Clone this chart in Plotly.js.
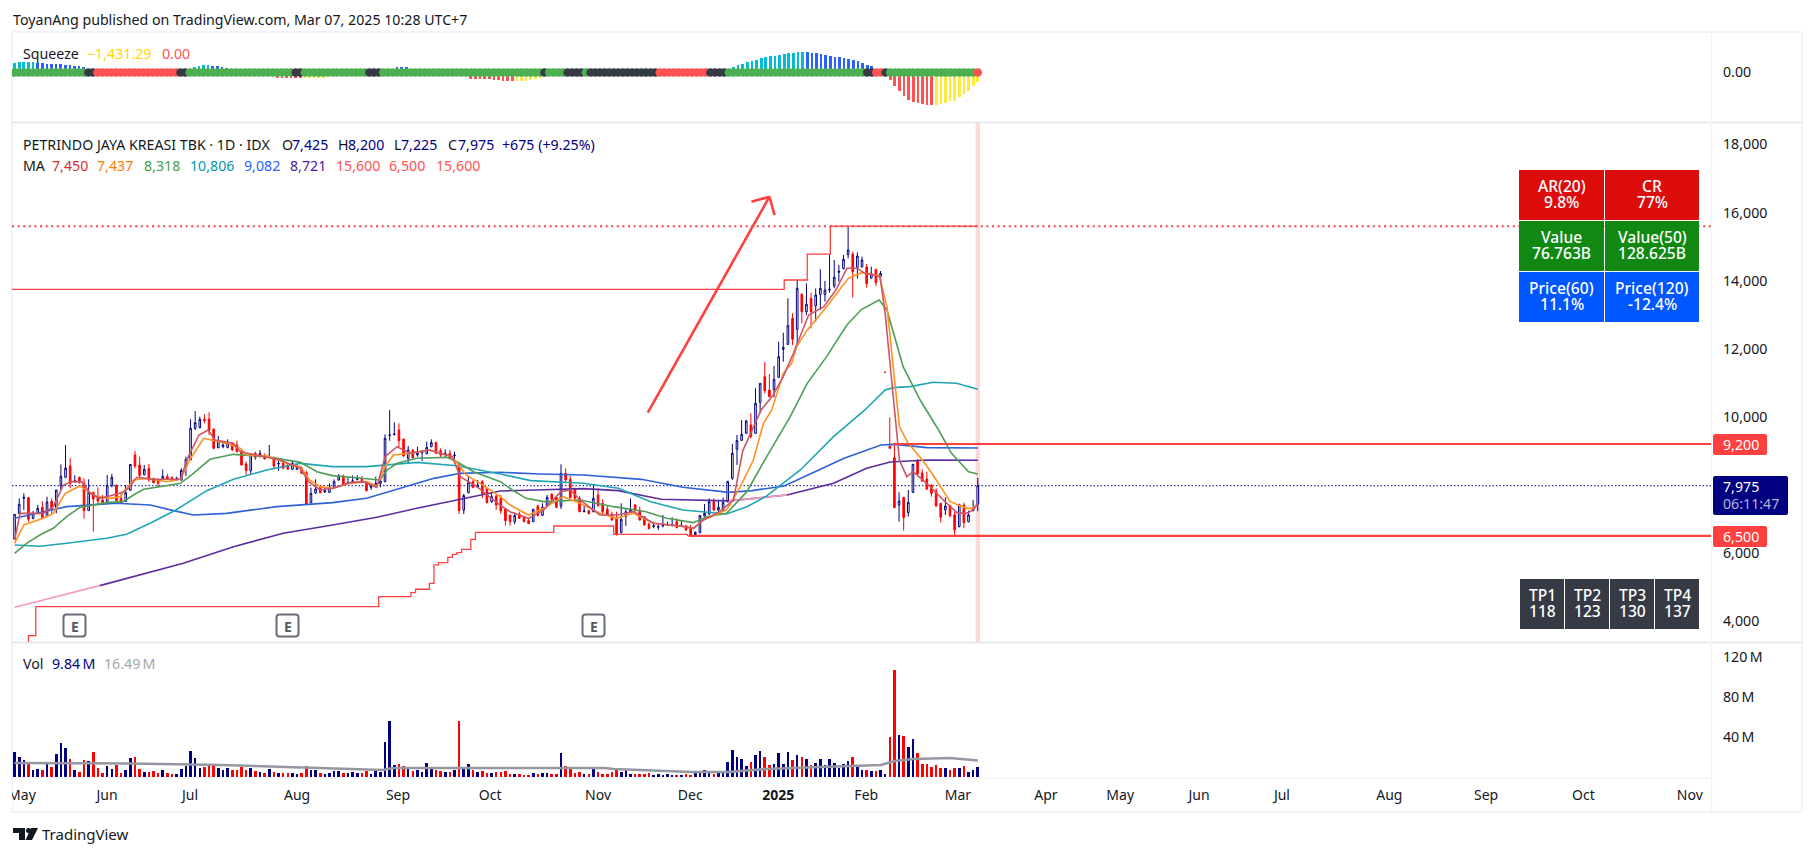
<!DOCTYPE html>
<html>
<head>
<meta charset="utf-8">
<script src="https://cdn.plot.ly/plotly-3.0.1.min.js"></script>
<style>html,body{margin:0;padding:0;background:#fff;overflow:hidden}#chart{width:1815px;height:856px}</style>
</head>
<body>
<div id="chart"></div>
<div style="position:absolute;left:0;top:782px;width:12px;height:28px;background:#fff"></div>
<script>
// ---------- candles ----------
const open = [6400,7163,7604,7624,7016,7183,7340,7065,7516,7340,
7966,8221,8554,8084,8221,8044,7242,7780,7624,7555,
7476,7976,7996,7604,7516,7839,8876,8583,8299,8485,
8191,8162,8172,8240,8221,8162,8142,8534,8730,9660,
9680,9924,9934,9640,9092,9121,9100,9199,9170,9004,
8612,8416,8925,8828,8847,8808,8779,8612,8632,8583,
8456,8456,8485,8358,7476,7760,7927,7790,7780,7917,
8142,8260,8044,8084,8152,8181,8084,7927,7947,8044,
8093,9445,9474,9611,9346,8769,9023,8876,8955,8916,
9121,9249,9004,8906,8925,8857,8612,7261,7770,8093,
7927,8093,7898,7506,7672,7604,
7291,7114,6919,7144,7065,6948,6919,7379,7105,7389,
7722,7633,7379,8338,8162,7898,7604,7212,7242,7212,
7702,7457,7281,7144,7036,6596,7065,7212,7408,7261,
7065,6850,6781,6752,6791,6811,6811,6919,6801,6801,
6723,6537,6595,7085,7144,7506,7261,7261,7506,8192,
9044,9308,9514,9759,9514,10424,11178,10787,10806,11159,
11981,12128,12891,12568,13606,13087,13479,13263,13597,13587,
13724,13842,14243,14351,14762,14782,14390,14400,14400,14077,
14331,14116,11306,9125,8798,7408,7633,7183,7780,8700,
8348,8172,7996,7819,7457,7261,7398,7114,6772,7408,
6919,7242,7425];
const high = [7134,7604,7751,7624,7232,7408,7516,7653,7604,7849,
8600,9170,8788,8279,8240,8191,8162,7780,7927,7702,
8289,8319,7996,7751,7996,8600,8994,8828,8583,8612,
8191,8162,8455,8319,8240,8240,8485,8828,9924,10169,
10002,10071,10130,9640,9434,9268,9337,9239,9297,9023,
8680,8925,8974,9023,8925,9170,8828,8749,8710,8632,
8730,8612,8534,8416,7917,8162,7996,7927,8044,8162,
8319,8299,8221,8279,8279,8260,8103,7996,8240,8279,
9484,10198,9836,9807,9346,9141,9043,9121,9023,9268,
9337,9249,9072,9043,9023,8974,8632,7731,8240,8142,
8142,8142,7898,7751,7702,7700,
7291,7114,7183,7212,7065,7016,7281,7408,7457,7702,
7751,7653,8603,8485,8260,7898,7672,7408,7242,7996,
7898,7575,7379,7212,7212,7457,7310,7604,7437,7359,
7065,6889,6919,6870,7114,6919,7046,7016,6948,6801,
6821,6625,7114,7437,7604,7604,7535,7624,8103,9201,
9465,9905,9905,10101,10835,10982,11609,11257,11491,12206,
12470,13479,13038,14017,13606,13919,13645,13772,14331,13989,
14772,14606,14459,14752,15600,14850,14830,14703,14488,14410,
14331,14282,11306,9983,9219,7780,7633,7848,8603,8750,
8456,8387,7996,7898,7457,7633,7398,7212,7428,7477,
7241,7555,8200];
const low = [6400,7144,7261,6919,6987,7163,7046,7065,7163,7163,
7849,8191,7898,8064,8044,7007,7242,6625,7408,7408,
7457,7927,7506,7437,7496,7839,8485,8191,8279,8093,
8044,7927,8142,8142,8103,8123,8123,8260,8730,9611,
9660,9807,9464,9043,9072,9072,9072,9004,8955,8563,
8260,8319,8730,8808,8749,8779,8485,8416,8465,8436,
8436,8436,8319,7408,7457,7732,7751,7770,7760,7898,
8123,7976,8025,8064,8132,8054,7810,7849,7927,7927,
8074,9298,9454,9102,8828,8612,8779,8828,8700,8896,
9102,8906,8808,8808,8759,8749,7144,7144,7751,7898,
7907,7604,7457,7476,7261,7144,
6801,6801,6840,6997,6899,6850,6899,7075,7085,7369,
7545,7310,7291,8044,7604,7555,7193,7193,7134,7193,
7359,7114,7095,6948,6527,6576,6791,7193,7212,6948,
6801,6693,6723,6674,6752,6791,6772,6723,6772,6654,
6497,6527,6576,7065,7124,7232,7183,7242,7486,8143,
8584,9289,9494,9367,9494,10101,10689,10571,10571,11139,
11619,12108,12108,12138,12745,12989,12598,12793,13137,13382,
13646,13773,13969,14331,14654,13499,14067,14390,13793,14057,
13842,13940,11306,9072,7330,6919,6654,7065,7760,8299,
8093,7849,7653,7359,6889,7114,7036,6507,6752,6723,
6899,7222,7225];
const close = [7134,7428,7634,6987,7163,7310,7046,7496,7310,7849,
8250,8495,8044,8114,8064,7242,7780,7584,7525,7457,
7986,8221,7535,7457,7770,8600,8554,8279,8455,8142,
8064,8044,8250,8162,8123,8181,8426,8749,9660,9826,
9924,9885,9591,9072,9300,9170,9220,9023,8974,8583,
8416,8896,8808,8925,8760,8828,8553,8632,8485,8465,
8632,8534,8338,7437,7751,7878,7770,7829,7927,8093,
8260,7996,8064,8114,8181,8074,7829,7947,8044,8113,
9366,9464,9494,9298,8847,9023,8798,8925,8974,9102,
9239,8925,8876,8925,8779,8876,7242,7682,8064,7927,
7996,7751,7476,7653,7408,7232,
6948,6919,7095,7016,6919,6860,7281,7095,7340,7633,
7575,7340,8338,8142,7623,7604,7212,7232,7154,7604,
7389,7212,7114,6968,6527,6987,7212,7281,7242,6968,
6821,6713,6801,6772,6821,6830,6830,6742,6811,6674,
6497,6605,7095,7163,7506,7261,7340,7486,8103,8927,
9299,9484,9876,9416,10395,10982,10767,10591,11100,11766,
12040,12676,12275,13773,13087,13303,13087,13577,13773,13724,
13744,14096,14273,14625,14899,14263,14723,14605,13910,14214,
13940,14214,11306,9072,7330,7526,7036,7486,8603,8319,
8113,7878,7751,7379,7046,7379,7095,6674,7428,6889,
7114,7291,7975];
const volume = [25,20,17,14,7,8,7,15,10,23,
34,29,18,7,5,17,16,25,9,4,
11,8,12,4,7,19,20,8,5,5,
6,4,7,4,3,3,8,11,26,19,
9,10,11,11,9,7,9,7,7,10,
7,9,6,5,4,8,5,4,4,4,
4,3,4,11,7,7,4,3,4,6,
6,4,4,5,4,4,6,3,6,5,
35,56,12,13,11,9,6,7,5,14,
10,7,6,5,5,7,56,8,13,7,
5,6,4,4,5,5,
6,3,3,3,2,2,4,3,4,4,
3,3,24,11,8,4,5,3,3,8,
5,3,3,5,7,5,7,3,3,3,
3,4,2,3,2,3,2,2,2,3,
2,4,4,7,4,3,4,4,15,27,
20,18,11,15,22,26,20,12,13,24,
13,25,17,22,20,18,12,14,18,12,
18,14,9,13,16,20,10,7,7,6,
6,7,3,40,107,42,41,30,38,24,
13,13,10,12,9,9,7,9,9,11,
5,7,9.84];
const volMaIdx = [0,25,45,60,65,80,82,100,118,128,130,145,147,155,163,175,185,188,191,195,203,209];
const volMaVal = [14,13.5,12,10,9,7,9,9,9,9,8,6,5,5,8,10,12,12,16,18,19,16.5];

// ---------- moving averages (bar position, price) ----------
const ma1Idx = [0,1.2,4,6.2,8.4,10.6,12.4,14.6,16.4,18.5,22.9,24.7,26.5,30,36,37.7,40,42,43.5,47.5,49,52.5,57.6,62,63.8,66.3,69,72.8,75.7,78.6,80.4,83,85.8,90,95,96.7,100.3,105.4,107.5,111.5,114.8,118.5,120.6,122.7,127,130.7,134.3,138.6,144.4,147.3,149.5,153,156,158,161,162,164.6,166.8,169,172.3,175.6,178.2,180.6,182.8,184.5,187.8,188.9,191,192,193.6,195,198.7,201.5,204.5,206.6,208,209];
const ma1Val = [6380,7163,7163,7163,7359,7995,8093,8093,7751,7604,7751,7898,8221,8162,8172,8828,9464,9611,9317,9219,8974,8877,8730,8485,8093,7849,7898,8064,8093,7927,8828,9121,8926,9023,8828,8240,7947,7400,7212,7016,7261,7800,7849,7555,7115,7115,7212,6870,6791,6723,6968,7212,7555,9000,9900,10200,10641,11179,11864,12990,13235,13724,14361,14361,14214,14116,13039,10200,8730,8240,8387,7947,7555,7183,7163,7261,7450];
const ma2Idx = [0,2,4,6.2,8.4,11,14.2,17.8,20.7,22.9,25.8,28.6,33,36,38,41,46,49,50.4,54.7,59,62,64,66.3,69,72.8,76.4,78.6,80.4,82.2,85.8,90,95,98,101,105.4,107.5,111.5,114.8,119,122.7,127,130.7,134.3,138.6,144.4,147.3,149.5,154.5,157.5,160.3,162.5,164.3,166.8,168.6,169.7,171.9,176.5,180.9,183.8,187.6,189.3,192,193.9,197,199.3,203,206.6,208,209];
const ma2Val = [6282,6821,6919,7017,7163,7751,7966,7653,7604,7653,8142,8191,8093,8162,8730,9366,9219,9072,8877,8857,8632,8534,8142,7947,7898,8044,8093,7966,8534,8876,8926,9023,8828,8289,8044,7653,7408,7114,7310,7653,7457,7163,7016,7163,6870,6791,6723,6968,7261,7947,8730,9807,10200,11277,11571,12060,12530,13284,14067,14233,14145,13235,9709,9219,8730,8289,7506,7310,7310,7437];
const ma3Idx = [0,2.6,5.5,8.4,11.3,14.2,20,23.6,25.8,28,30.8,36,38.8,42.4,47.5,54.7,62,65.6,69,76.4,79.3,80.8,83,87.3,93.8,96,99.6,105.4,108,111,114.8,122.7,130,137,141.5,147.3,150.2,154.5,158.9,163.2,168.3,172,176.2,180.6,183.8,187.6,189.3,192.8,196.5,200.5,203.3,207,209];
const ma3Val = [5988,6282,6527,6723,7065,7340,7477,7506,7702,7868,7927,8044,8338,8749,8896,8828,8661,8387,8270,8172,8142,8436,8632,8779,8808,8681,8387,8093,7849,7604,7506,7555,7359,7212,7016,6889,7065,7163,7800,8828,10002,10983,11766,12696,13157,13431,13137,11473,10492,9611,8925,8387,8318];
const ma4Idx = [0,5.5,11.3,20,24.3,29.4,35,41.7,47.5,54.7,62,69,76.4,80.8,87.3,96,105.4,112,123.5,131,138,145,154.5,158.9,163,170.5,177.7,184.5,188.9,190.7,194.3,199.3,204.4,209];
const ma4Val = [6233,6194,6282,6429,6547,6870,7261,7829,8162,8436,8632,8534,8534,8583,8661,8563,8319,8123,8045,7898,7506,7261,7144,7359,7653,8436,9415,10200,10787,10856,10885,11012,10983,10806];
const ma5Idx = [0,4,11.3,22,29.4,34.5,38.8,46,56.9,69,76.4,83.7,91,96.7,105.4,114,123.5,136,145,155,160,167,180,188,191,198,209];
const ma5Val = [7017,7134,7359,7457,7408,7242,7114,7163,7359,7477,7604,7898,8191,8338,8368,8319,8289,8162,7927,7780,7829,7966,8779,9170,9190,9092,9082];
const ma6Idx = [18.5,36.6,47.5,58.3,69,78.6,87.3,96.7,105.4,113,123.5,131,140.3,155,167.6,177.7,184.9,190,198,209];
const ma6Val = [5039,5695,6184,6576,6821,7046,7310,7574,7819,7849,7888,7829,7575,7530,7700,8045,8485,8671,8730,8721];
const ma6FadedAIdx = [0,18.5];
const ma6FadedAVal = [4403,5039];
const ma6FadedBIdx = [155,167.6];
const ma6FadedBVal = [7530,7700];

// ---------- stepped highs and lows ----------
const upperStepIdx = [-0.6,167,172,177,209];
const upperStepVal = [13745,14017,14780,15600,15600];
const lowerStepIdx = [3,3,4.6,79,86,87,90,91,92,94,95,96,97,99,100,117,130,146];
const lowerStepVal = [3300,3570,4422,4716,4833,4932,5108,5646,5714,5871,5959,6008,6106,6400,6605,6791,6546,6500];

// ---------- squeeze ----------
const cyanIdx = [0,1,2,3,4,39,40,41,42,156,157,158,159,160,161,162,163,164,165,166,167,168,169,170,171];
const cyanVal = [1396,1551,1603,1603,1603,879,1034,1137,1137,776,1137,1293,1603,1810,1913,2223,2378,2533,2533,2688,2895,2999,2999,3154,3154];
const blueIdx = [5,6,7,8,9,10,11,12,13,14,15,43,44,45,46,83,84,85,172,173,174,175,176,177,178,179,180,181,182,183,184,185,186];
const blueVal = [1499,1396,1344,1293,1293,1293,1189,1137,1034,1034,879,1034,931,827,724,880,930,880,3102,3050,2947,2844,2688,2533,2378,2378,2275,2068,1913,1706,1448,1189,982];
const redIdx = [57,58,59,60,61,62,99,100,101,102,103,104,105,106,107,108,190,191,192,193,194,195,196,197,198,199];
const redVal = [-827,-879,-879,-879,-879,-879,-931,-982,-982,-982,-1034,-1086,-1137,-1241,-1293,-1344,-1137,-2068,-2895,-3619,-4291,-4550,-4705,-4860,-5015,-5015];
const yellowIdx = [63,64,65,66,67,68,109,110,111,112,113,114,200,201,202,203,204,205,206,207,208,209];
const yellowVal = [-827,-827,-827,-827,-775,-724,-1344,-1293,-1241,-1137,-1034,-879,-5015,-4860,-4705,-4446,-4343,-3826,-3309,-2895,-2120,-1431];
const dotRunState = ['g','d','r','d','g','d','g','d','g','d','g','d','g','d','r','d','g','d','r','d','g','r'];
const dotRunLength = [16,2,18,2,23,2,14,3,35,1,4,4,1,15,11,4,30,2,2,1,19,1];

// ---------- axes text ----------
const monthIdx = [1.6,20.05,38.06,61.3,83.2,103.2,126.6,146.6,165.7,184.8,204.7,223.8,239.9,257,275,298.3,319.3,340.4,363.5];
const monthLabels = ['May','Jun','Jul','Aug','Sep','Oct','Nov','Dec','<b>2025</b>','Feb','Mar','Apr','May','Jun','Jul','Aug','Sep','Oct','Nov'];
const priceTicks = [4000,6000,10000,12000,14000,16000,18000];
const volTicks = [40,80,120];
const volTickLabels = ['40\u202fM','80\u202fM','120\u202fM'];
const arrowIdx = [137.4,163.8,159.9,163.8,164.9];
const arrowPrice = [10119,16465,16318,16465,15927];
const tableTop = [['AR(20)','9.8%'],['CR','77%'],['Value','76.763B'],['Value(50)','128.625B'],['Price(60)','11.1%'],['Price(120)','-12.4%']];
const tableTp = [['TP1','118'],['TP2','123'],['TP3','130'],['TP4','137']];

const FONT = '"Noto Sans", sans-serif';
const W = 1815, H = 856;
const NAVY = '#000080', RED = '#ff0000', LINE = '#ff4040', DARK = '#131722';
const px = x => x / W;
const py = y => 1 - y / H;
const barX = volume.map((_, j) => j * 209 / 208);

const dotColor = {g:'#4caf50', d:'#363a45', r:'#ff5252'};
const dotColors = [];
dotRunState.forEach((s, k) => { for (let n = 0; n < dotRunLength[k]; n++) dotColors.push(dotColor[s]); });
const dotIdx = dotColors.map((_, i) => i);

const maLine = (x, y, color, width) => ({type:'scatter', mode:'lines', x, y, xaxis:'x', yaxis:'y', line:{color, width:width || 1.6}, hoverinfo:'skip'});
const histBar = (x, y, color) => ({type:'bar', x, y, xaxis:'x', yaxis:'y2', width:0.58, marker:{color, line:{width:0}}, hoverinfo:'skip'});

const traces = [
  histBar(cyanIdx, cyanVal, '#00bcd4'),
  histBar(blueIdx, blueVal, '#2962ff'),
  histBar(redIdx, redVal, '#ff5252'),
  histBar(yellowIdx, yellowVal, '#ffeb3b'),
  {type:'scatter', mode:'markers', x:dotIdx, y:dotIdx.map(() => 0), xaxis:'x', yaxis:'y2', marker:{size:8.6, color:dotColors, line:{width:0}}, hoverinfo:'skip'},
  {type:'candlestick', x:barX, open, high, low, close, xaxis:'x', yaxis:'y', whiskerwidth:0,
    increasing:{line:{color:NAVY, width:1}, fillcolor:'#ffffff'},
    decreasing:{line:{color:RED, width:1}, fillcolor:RED}, hoverinfo:'skip'},
  {type:'scatter', mode:'lines', x:upperStepIdx, y:upperStepVal, xaxis:'x', yaxis:'y', line:{color:LINE, width:1.3, shape:'hv'}, hoverinfo:'skip'},
  {type:'scatter', mode:'lines', x:lowerStepIdx, y:lowerStepVal, xaxis:'x', yaxis:'y', line:{color:LINE, width:1.3, shape:'hv'}, hoverinfo:'skip'},
  maLine(ma6Idx, ma6Val, '#5b2c9f'),
  maLine(ma6FadedAIdx, ma6FadedAVal, '#f79ac0'),
  maLine(ma6FadedBIdx, ma6FadedBVal, '#f79ac0'),
  maLine(ma5Idx, ma5Val, '#2e62d6'),
  maLine(ma4Idx, ma4Val, '#1fa6b4'),
  maLine(ma3Idx, ma3Val, '#4f9e58'),
  maLine(ma2Idx, ma2Val, '#ff9122'),
  maLine(ma1Idx, ma1Val, '#cc5566'),
  {type:'bar', x:barX, y:volume, xaxis:'x', yaxis:'y3', width:0.56, marker:{color:volume.map((_, j) => close[j] < open[j] ? RED : NAVY), line:{width:0}}, hoverinfo:'skip'},
  {type:'scatter', mode:'lines', x:volMaIdx, y:volMaVal, xaxis:'x', yaxis:'y3', line:{color:'#9598a1', width:2.6}, hoverinfo:'skip'}
];

// ---------- page furniture: helpers in page pixels ----------
const rect = (x0, y0, x1, y1, fill, layer) => ({type:'rect', xref:'paper', yref:'paper', x0:px(x0), x1:px(x1), y0:py(y1), y1:py(y0), fillcolor:fill, line:{width:0}, layer:layer || 'above'});
const hLine = (x0, x1, y, color, width) => ({type:'line', xref:'paper', yref:'paper', x0:px(x0), x1:px(x1), y0:py(y), y1:py(y), line:{color, width}, layer:'below'});
const vLine = (x, y0, y1, color, width) => ({type:'line', xref:'paper', yref:'paper', x0:px(x), x1:px(x), y0:py(y0), y1:py(y1), line:{color, width}, layer:'below'});
const roundPath = (x0, y0, x1, y1, r) => {
  const P = (x, y) => `${px(x)},${py(y)}`;
  return `M${P(x0 + r, y0)} L${P(x1 - r, y0)} Q${P(x1, y0)} ${P(x1, y0 + r)} L${P(x1, y1 - r)} Q${P(x1, y1)} ${P(x1 - r, y1)} L${P(x0 + r, y1)} Q${P(x0, y1)} ${P(x0, y1 - r)} L${P(x0, y0 + r)} Q${P(x0, y0)} ${P(x0 + r, y0)} Z`;
};
const roundBox = (x0, y0, x1, y1, r, fill, stroke, sw) => ({type:'path', xref:'paper', yref:'paper', path:roundPath(x0, y0, x1, y1, r), fillcolor:fill, line:{color:stroke || fill, width:sw === undefined ? 0 : sw}, layer:'above'});
const poly = (pts, fill) => ({type:'path', xref:'paper', yref:'paper', path:'M' + pts.map(p => `${px(p[0])},${py(p[1])}`).join(' L') + ' Z', fillcolor:fill, line:{width:0}, layer:'above'});
const label = (text, x, y, color, size, anchor, weight) => ({xref:'paper', yref:'paper', x:px(x), y:py(y), text, showarrow:false, xanchor:anchor || 'left', yanchor:'middle',
  font:{family:FONT, size:size || 14.2, color:color || DARK, weight:weight || 400}, borderpad:0, borderwidth:0});

const FRAME = '#f0f3fa', SEP = '#e0e3eb';
const shapes = [
  // panes frame
  vLine(12, 32, 812, FRAME, 2), hLine(12, 1802, 32, FRAME, 2), vLine(1802, 32, 812, FRAME, 2), hLine(12, 1802, 812, FRAME, 2),
  hLine(12, 1802, 122.5, SEP, 1.5), hLine(12, 1802, 642.5, SEP, 1.5), vLine(1711.5, 32, 812, FRAME, 1.5), hLine(12, 1711, 778, FRAME, 1),
  // current-bar band
  {type:'rect', xref:'x', yref:'paper', x0:208.53, x1:209.47, y0:py(642), y1:py(123), fillcolor:'#fdd8d8', line:{width:0}, layer:'below'},
  // price lines
  {type:'line', xref:'paper', yref:'y', x0:px(12), x1:px(1711), y0:close[208], y1:close[208], line:{color:NAVY, width:1, dash:'1.5px,2px'}, layer:'below'},
  {type:'line', xref:'paper', yref:'y', x0:px(12), x1:px(1711), y0:15600, y1:15600, line:{color:LINE, width:2, dash:'2px,3.6px'}, layer:'above'},
  {type:'line', xref:'x', yref:'y', x0:190.6, x1:368.2, y0:9200, y1:9200, line:{color:LINE, width:2.2}, layer:'above'},
  {type:'line', xref:'x', yref:'y', x0:146.2, x1:368.2, y0:6500, y1:6500, line:{color:LINE, width:2.2}, layer:'above'},
  // drawn arrow
  {type:'line', xref:'x', yref:'y', x0:arrowIdx[0], y0:arrowPrice[0], x1:arrowIdx[1], y1:arrowPrice[1], line:{color:LINE, width:2.6}, layer:'above'},
  {type:'line', xref:'x', yref:'y', x0:arrowIdx[2], y0:arrowPrice[2], x1:arrowIdx[3], y1:arrowPrice[3], line:{color:LINE, width:2.6}, layer:'above'},
  {type:'line', xref:'x', yref:'y', x0:arrowIdx[3], y0:arrowPrice[3], x1:arrowIdx[4], y1:arrowPrice[4], line:{color:LINE, width:2.6}, layer:'above'},
  // axis badges
  roundBox(1713, 434, 1767, 455, 2, '#ff4040'),
  roundBox(1713, 476, 1788, 515, 2, NAVY),
  roundBox(1713, 526, 1767, 547, 2, '#ff4040'),
  // earnings markers
  roundBox(63.5, 614.5, 85.5, 636.5, 3, 'rgba(255,255,255,0.9)', '#6a6d78', 2),
  roundBox(276.5, 614.5, 298.5, 636.5, 3, 'rgba(255,255,255,0.9)', '#6a6d78', 2),
  roundBox(582.5, 614.5, 604.5, 636.5, 3, 'rgba(255,255,255,0.9)', '#6a6d78', 2),
  // tables
  rect(1519, 170, 1604, 220, '#dd0c0c'), rect(1605, 170, 1699, 220, '#dd0c0c'),
  rect(1519, 221, 1604, 271, '#108811'), rect(1605, 221, 1699, 271, '#108811'),
  rect(1519, 272, 1604, 322, '#0056ff'), rect(1605, 272, 1699, 322, '#0056ff'),
  rect(1520, 579, 1564, 629, '#363a45'), rect(1565, 579, 1609, 629, '#363a45'),
  rect(1610, 579, 1654, 629, '#363a45'), rect(1655, 579, 1699, 629, '#363a45'),
  // TradingView logo
  poly([[13,828],[25,828],[25,840],[19,840],[19,833],[13,833]], '#131722'),
  {type:'circle', xref:'paper', yref:'paper', x0:px(26), x1:px(31), y0:py(833), y1:py(828), fillcolor:'#131722', line:{width:0}, layer:'above'},
  poly([[31,828],[38,828],[32,840],[25.5,840]], '#131722')
];

const num = (t, x, y) => label(t, x, y, NAVY);
const annotations = [
  label('ToyanAng published on TradingView.com, Mar 07, 2025 10:28 UTC+7', 13, 20),
  label('Squeeze', 23, 54), label('\u22121,431.29', 87, 54, '#ffd600'), label('0.00', 162, 54, '#ff5252'),
  label('PETRINDO JAYA KREASI TBK \u00b7 1D \u00b7 IDX', 23, 144),
  label('O', 282, 144), num('7,425', 292, 144),
  label('H', 338, 144), num('8,200', 348, 144),
  label('L', 394, 144), num('7,225', 401, 144),
  label('C', 448, 144), num('7,975', 458, 144),
  num('+675 (+9.25%)', 502, 144),
  label('MA', 23, 165),
  label('7,450', 52, 165, '#d32f2f'), label('7,437', 97, 165, '#ff7a00'), label('8,318', 144, 165, '#43a047'),
  label('10,806', 190, 165, '#0097a7'), label('9,082', 244, 165, '#2962ff'), label('8,721', 290, 165, '#4a1c9c'),
  label('15,600', 336, 165, '#ff5252'), label('6,500', 389, 165, '#ff5252'), label('15,600', 436, 165, '#ff5252'),
  label('Vol', 23, 663), num('9.84\u202fM', 52, 663), label('16.49\u202fM', 104, 663, '#a3a6af'),
  label('9,200', 1723, 444, '#ffffff'), label('7,975', 1723, 486, '#ffffff'), label('06:11:47', 1723, 503, '#b3b3dd'), label('6,500', 1723, 536, '#ffffff'),
  label('E', 74.5, 626, '#55585f', 14, 'center', 700), label('E', 287.5, 626, '#55585f', 14, 'center', 700), label('E', 593.5, 626, '#55585f', 14, 'center', 700),
  label('TradingView', 42, 834, '#131722', 15)
];
const cellX = [1561.5, 1652];
const cellY = [186, 237, 288];
tableTop.forEach((c, k) => {
  const x = cellX[k % 2], y = cellY[Math.floor(k / 2)];
  annotations.push(label(c[0], x, y, '#fff', 15.6, 'center', 500), label(c[1], x, y + 16, '#fff', 15.6, 'center', 500));
});
const tpX = [1542, 1587, 1632, 1677];
tableTp.forEach((c, k) => {
  annotations.push(label(c[0], tpX[k], 595, '#fff', 15.6, 'center', 500), label(c[1], tpX[k], 611, '#fff', 15.6, 'center', 500));
});

const yBase = {side:'right', anchor:'x', showgrid:false, zeroline:false, showline:false, ticks:'', ticklabelstandoff:11, tickfont:{family:FONT, size:14.2, color:DARK}};
const layout = {
  width:W, height:H, margin:{l:0, r:0, t:0, b:0, pad:0}, paper_bgcolor:'#ffffff', plot_bgcolor:'#ffffff',
  showlegend:false, hovermode:false, barmode:'overlay', bargap:0, boxgap:0.5, boxmode:'overlay', dragmode:false,
  xaxis:{domain:[px(12), px(1711)], range:[-0.56, 368.1], anchor:'y3', showgrid:false, zeroline:false, showline:false, ticks:'', rangeslider:{visible:false},
    tickmode:'array', tickvals:monthIdx, ticktext:monthLabels, ticklabelstandoff:7, tickfont:{family:FONT, size:14, color:DARK}},
  yaxis:{...yBase, domain:[py(642), py(123)], range:[3383, 18630], tickmode:'array', tickvals:priceTicks, tickformat:','},
  yaxis2:{...yBase, domain:[py(122), py(33)], range:[-7672, 6122], tickmode:'array', tickvals:[0], ticktext:['0.00']},
  yaxis3:{...yBase, domain:[py(778), py(643)], range:[-1, 134], tickmode:'array', tickvals:volTicks, ticktext:volTickLabels},
  shapes, annotations
};
Plotly.newPlot('chart', traces, layout, {displayModeBar:false, staticPlot:true});
</script>
</body>
</html>
